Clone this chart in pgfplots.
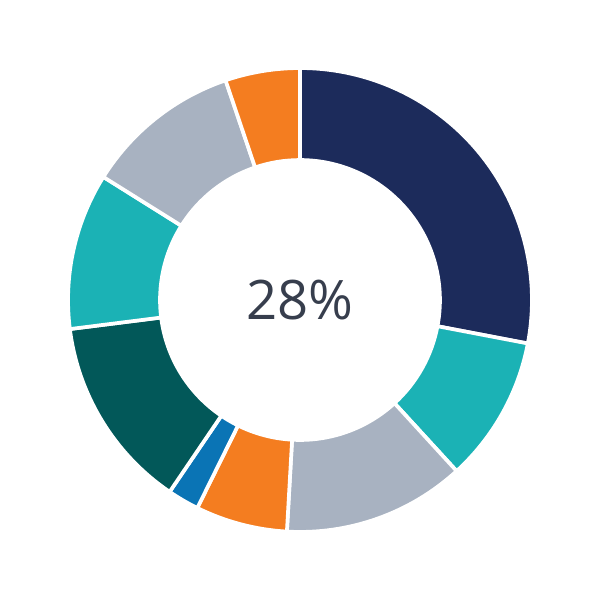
\documentclass[border=0pt]{standalone}
\usepackage{pgfplots}
\usepackage{pgfplotstable}
\pgfplotsset{compat=1.18}
\usepackage{fontspec}
\setmainfont{Open Sans}

\definecolor{navy}{HTML}{1C2B5B}
\definecolor{tealc}{HTML}{1BB2B5}
\definecolor{grayc}{HTML}{A8B2C1}
\definecolor{orangec}{HTML}{F47D20}
\definecolor{bluec}{HTML}{0A74B5}
\definecolor{darkteal}{HTML}{025859}
\definecolor{txt}{HTML}{373E4D}

% share of each ring segment (percent), clockwise from 12 o'clock
\pgfplotstableread{
value color
28.0  navy
10.2  tealc
12.7  grayc
6.4   orangec
2.2   bluec
13.5  darkteal
10.9  tealc
10.9  grayc
5.2   orangec
}\donut

\begin{document}
\begin{tikzpicture}
\begin{axis}[
    x=0.02cm, y=0.02cm,
    xmin=-300, xmax=300,
    ymin=-300, ymax=300,
    hide axis,
    clip=false,
]
% keep the full square canvas
\path (axis cs:-300,-300) rectangle (axis cs:300,300);
\xdef\cum{0}
\pgfplotsinvokeforeach{0,...,8}{
  \pgfplotstablegetelem{#1}{value}\of\donut
  \pgfmathsetmacro\sa{90-3.6*\cum}
  \pgfmathsetmacro\newcum{\cum+\pgfplotsretval}
  \xdef\cum{\newcum}
  \pgfmathsetmacro\ea{90-3.6*\cum}
  \pgfplotstablegetelem{#1}{color}\of\donut
  \edef\tmp{\noexpand\fill[\pgfplotsretval, draw=white, line width=2.1pt, line join=miter]
    (axis cs:0,0) ++(\sa:4.64cm) arc[start angle=\sa, end angle=\ea, radius=4.64cm]
    -- ++(\ea:-1.84cm) arc[start angle=\ea, end angle=\sa, radius=2.8cm] -- cycle;}
  \tmp
}
\node[text=txt, font=\fontsize{31}{37}\selectfont] at (axis cs:0,0) {28\%};
\end{axis}
\end{tikzpicture}
\end{document}
